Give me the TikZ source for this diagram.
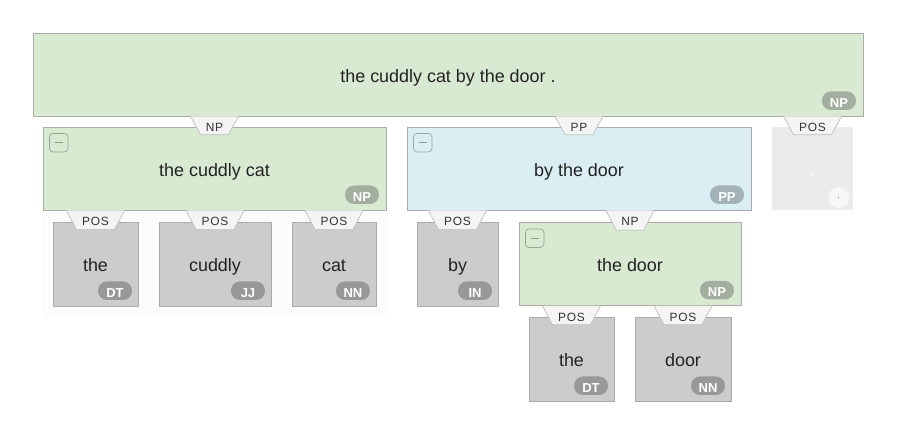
\documentclass[tikz,border=0pt]{standalone}
\usepackage{fontspec}
\setmainfont{Liberation Sans}

\definecolor{npgreen}{HTML}{D9EAD3}
\definecolor{ppblue}{HTML}{DAEEF3}
\definecolor{posgray}{HTML}{CCCCCC}
\definecolor{dotgray}{HTML}{EBEBEB}
\definecolor{tabgray}{HTML}{F4F4F4}
\definecolor{inkgray}{HTML}{222222}

\tikzset{
  box/.style={draw=black!33, inner sep=0pt, text=inkgray, font=\fontsize{10.2}{12}\selectfont, text height=0.88em, text depth=0pt},
  npbox/.style={box, fill=npgreen, minimum height=1.66cm},
  ppbox/.style={box, fill=ppblue, minimum height=1.66cm},
  leaf/.style={box, fill=posgray, minimum height=1.68cm},
  badge/.style={fill=black, fill opacity=0.25, text opacity=1, text=white, rounded corners=0.18cm, minimum width=0.68cm, minimum height=0.37cm, inner sep=0pt, font=\bfseries\fontsize{7.4}{8}\selectfont, text height=0.72em, text depth=0pt, anchor=south east},
  fold/.style={draw=black, draw opacity=0.3, rounded corners=2pt, minimum size=0.37cm, inner sep=0pt},
  foldline/.style={black, opacity=0.35, line width=0.6pt},
  tab/.style={draw=black!25, fill=tabgray},
  tablabel/.style={inner sep=0pt, text=black!80, font=\addfontfeature{LetterSpace=6}\fontsize{6.8}{8}\selectfont, text height=0.72em, text depth=0pt}
}

\newcommand\linktab[4]{%
  \coordinate (#2-top) at (#2.north |- #1.south);
  \filldraw[tab] ([shift={(-#4-10,0)}]#2-top) -- ([shift={(-#4,8)}]#2.north) -- ([shift={(#4,8)}]#2.north) -- ([shift={(#4+10,0)}]#2-top);
  \node[tablabel] (#2-tab) at ([shift={(0,9)}]#2-top) {#3};
}

\begin{document}
\begin{tikzpicture}[x=0.02cm, y=-0.02cm]
\useasboundingbox (0,0) rectangle (899,428);
\draw[draw=black!3, fill=black!1, rounded corners=3pt] (43,212) rectangle (386,316);

\node[npbox, minimum width=16.6cm] (sent) at (448,74.5) {the cuddly cat by the door .};
\node[npbox, minimum width=6.86cm] (catnp) at (214.5,168.5) {the cuddly cat};
\node[ppbox, minimum width=6.88cm] (bypp) at (579,168.5) {by the door};
\node[box, draw=none, fill=dotgray, text=white, minimum width=1.62cm, minimum height=1.66cm] (dot) at (812.5,168.5) {.};
\node[npbox, minimum width=4.44cm] (doornp) at (630,264) {the door};

\node[badge] (sent-tag) at ([shift={(-7,-6)}]sent.south east) {NP};
\node[badge] (catnp-tag) at ([shift={(-7,-6)}]catnp.south east) {NP};
\node[badge] (bypp-tag) at ([shift={(-7,-6)}]bypp.south east) {PP};
\node[badge] (doornp-tag) at ([shift={(-7,-6)}]doornp.south east) {NP};
\node[circle, fill=white, fill opacity=0.6, text opacity=1, text=black!45, minimum size=0.42cm, inner sep=0pt, anchor=south east, font=\fontsize{7}{8}\selectfont] (dot-tag) at ([shift={(-7,-5)}]dot.south east) {.};

\foreach \name/\x/\y/\w/\word/\tag in {the1/95.5/264/1.70/the/DT, cuddly/215/264/2.24/cuddly/JJ, cat/334/264/1.68/cat/NN, by/457.5/264/1.62/by/IN, the2/571.5/359/1.70/the/DT, door/683/359/1.92/door/NN}{
  \node[leaf, minimum width=\w cm] (\name) at (\x,\y) {\word};
  \node[badge] (\name-tag) at ([shift={(-6,-6)}]\name.south east) {\tag};
}

\foreach \p in {catnp,bypp,doornp}{
  \node[fold] (\p-fold) at ([shift={(16,16)}]\p.north west) {};
  \draw[foldline] ([shift={(-4,0)}]\p-fold.center) -- ([shift={(4,0)}]\p-fold.center);
}

\linktab{sent}{catnp}{NP}{14}
\linktab{sent}{bypp}{PP}{14}
\linktab{sent}{dot}{POS}{19}
\linktab{catnp}{the1}{POS}{19}
\linktab{catnp}{cuddly}{POS}{19}
\linktab{catnp}{cat}{POS}{19}
\linktab{bypp}{by}{POS}{19}
\linktab{bypp}{doornp}{NP}{14}
\linktab{doornp}{the2}{POS}{19}
\linktab{doornp}{door}{POS}{19}
\end{tikzpicture}
\end{document}
